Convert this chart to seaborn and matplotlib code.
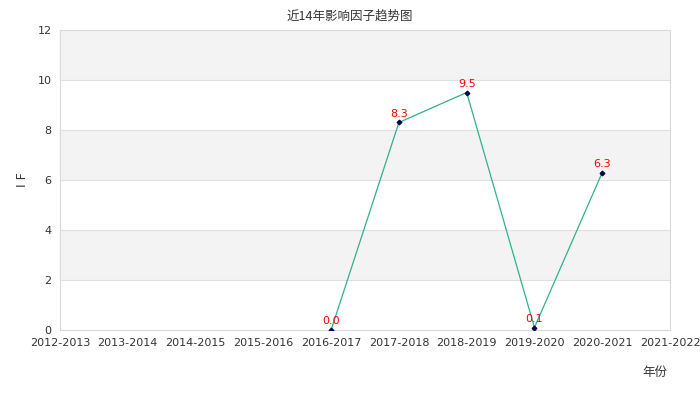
import matplotlib
matplotlib.use("Agg")
import matplotlib.pyplot as plt
import seaborn as sns
import pandas as pd

# données
annees = ["2012-2013", "2013-2014", "2014-2015", "2015-2016", "2016-2017",
          "2017-2018", "2018-2019", "2019-2020", "2020-2021", "2021-2022"]
annees_if = ["2016-2017", "2017-2018", "2018-2019", "2019-2020", "2020-2021"]
valeurs_if = [0.0, 8.3, 9.5, 0.1, 6.3]
yticks = [0, 2, 4, 6, 8, 10, 12]

sns.set_style("white")
plt.rcParams['font.family'] = ['DejaVu Sans', 'Noto Sans CJK SC']

df = pd.DataFrame({"annee": annees_if, "IF": valeurs_if})
df["pos"] = [annees.index(a) for a in df["annee"]]

fig = plt.figure(figsize=(7, 4), dpi=100)
ax = fig.add_axes([60/700, 70/400, 610/700, 300/400])

# bandes alternées
for i in range(len(yticks) - 1):
    if i % 2 == 1:
        ax.axhspan(yticks[i], yticks[i + 1], color="#f3f3f3", zorder=0, lw=0)
for y in yticks[1:-1]:
    ax.axhline(y, color="#e0e0e0", lw=0.8, zorder=0.5)

sns.lineplot(data=df, x="pos", y="IF", ax=ax, color="#2fb08f", lw=0.9,
             marker="D", markersize=2.5, markerfacecolor="#00008b",
             markeredgecolor="#000033", zorder=3)

for p, v in zip(df["pos"], df["IF"]):
    ax.text(p, v + 0.15, f"{v:.1f}", color="#ff0000", fontsize=8,
            ha="center", va="bottom", zorder=4)

ax.set_xlim(0, len(annees) - 1)
ax.set_ylim(0, 12)
ax.set_xticks(range(len(annees)))
ax.set_xticklabels(annees)
ax.set_yticks(yticks)
ax.tick_params(axis="both", length=0, labelsize=8, labelcolor="#333333", pad=6)

for s in ax.spines.values():
    s.set_color("#d9d9d9")
    s.set_linewidth(0.8)

ax.set_xlabel("")
ax.set_ylabel("I F", fontsize=9, color="#333333", labelpad=6)
fig.text(655/700, 1 - 372/400, "年份", fontsize=9, color="#333333",
         ha="center", va="center", family=['Noto Sans CJK SC', 'DejaVu Sans'])
fig.text(0.5, 1 - 16/400, "近14年影响因子趋势图", fontsize=9, color="#333333",
         ha="center", va="center", family=['Noto Sans CJK SC', 'DejaVu Sans'])

plt.savefig("out.png", dpi=100)
